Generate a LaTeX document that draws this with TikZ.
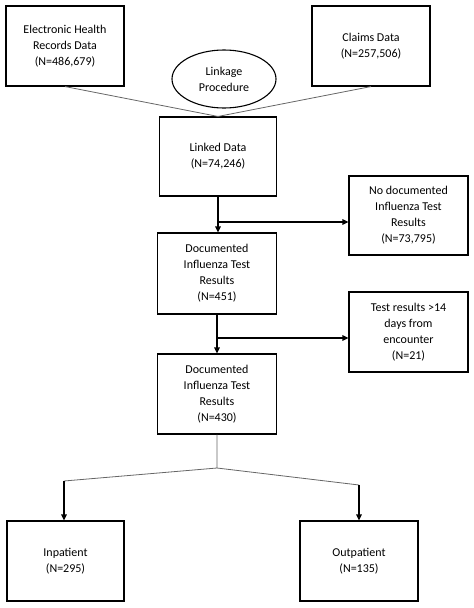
\documentclass[tikz,border=0pt]{standalone}
\usepackage{fontspec}
\setmainfont{Carlito}
\usetikzlibrary{shapes.geometric,arrows.meta}
\begin{document}
\begin{tikzpicture}[x=1pt,y=-1pt,
  box/.style={draw,line width=1.1pt,align=center,font=\fontsize{12}{16}\selectfont,minimum width=118,minimum height=80,inner sep=2pt},
  thin line/.style={draw=gray!80!black,line width=0.8pt},
  arr/.style={line width=1.1pt,-{Triangle[length=6pt,width=5.5pt]}}]
 \useasboundingbox (0,0) rectangle (474,608);
 \node[box] (ehr) at (65,46) {Electronic Health\\Records Data\\(N=486,679)};
 \node[box] (claims) at (371,46) {Claims Data\\(N=257,506)};
 \node[ellipse,draw,line width=1.1pt,minimum width=104,minimum height=58,align=center,font=\fontsize{12}{16}\selectfont,inner sep=1pt] (link) at (224,79) {Linkage\\Procedure};
 \node[box,minimum width=117,minimum height=79] (linked) at (218,156.5) {Linked Data\\(N=74,246)};
 \node[box,minimum width=119,minimum height=79] (nodoc) at (408.5,215.5) {No documented\\Influenza Test\\Results\\(N=73,795)};
 \node[box,minimum width=119,minimum height=81] (doc1) at (217,273.5) {Documented\\Influenza Test\\Results\\(N=451)};
 \node[box,minimum width=119] (test) at (408.5,332) {Test results >14\\days from\\encounter\\(N=21)};
 \node[box,minimum width=119] (doc2) at (217,394) {Documented\\Influenza Test\\Results\\(N=430)};
 \node[box,minimum width=117] (inpat) at (65.5,561) {Inpatient\\(N=295)};
 \node[box] (outpat) at (359,561) {Outpatient\\(N=135)};
 \draw[thin line] (ehr.south) -- (linked.north);
 \draw[thin line] (claims.south) -- (linked.north);
 \draw[arr] (linked.south) -- (linked.south |- doc1.north);
 \coordinate (b1) at (218,222);
 \draw[arr] (b1) -- (nodoc.west |- b1);
 \draw[arr] (doc1.south) -- (doc2.north);
 \coordinate (b2) at (217,338);
 \draw[arr] (b2) -- (test.west |- b2);
 \coordinate (s) at (217,468);
 \coordinate (sl) at (64,481);
 \coordinate (sr) at (359,485);
 \draw[thin line] (doc2.south) -- (s) -- (sl);
 \draw[thin line] (s) -- (sr);
 \draw[arr] (sl) -- (sl |- inpat.north);
 \draw[arr] (sr) -- (outpat.north);
\end{tikzpicture}
\end{document}
